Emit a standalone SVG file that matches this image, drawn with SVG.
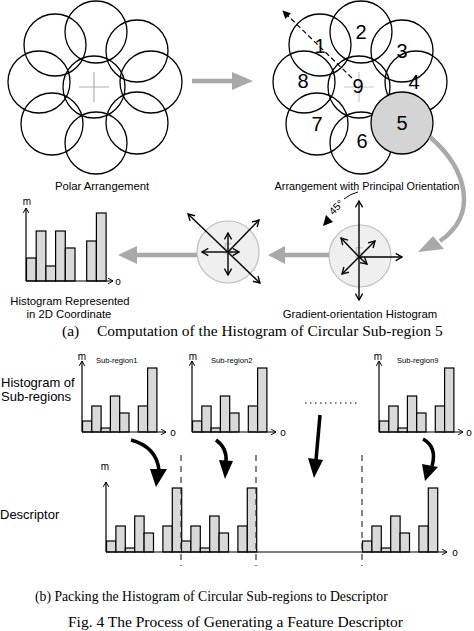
<svg xmlns="http://www.w3.org/2000/svg" width="474" height="631" viewBox="0 0 474 631">
<style>
.c{fill:none;stroke:#000;stroke-width:1.3}
.sans{font-family:"Liberation Sans",Arial,sans-serif;fill:#000}
.serif{font-family:"Liberation Serif","Times New Roman",serif;fill:#000}
.num{font-family:"Liberation Sans",Arial,sans-serif;font-size:20px;text-anchor:middle;fill:#000}
.bar{fill:#d9d9d9;stroke:#000;stroke-width:1.2}
.ax{fill:none;stroke:#000;stroke-width:1.2;marker-end:url(#chevS)}
.ga{fill:none;stroke:#000;stroke-width:1.4;marker-end:url(#chev)}
.gray{fill:none;stroke:#a9a9a9;stroke-width:4.5}
.dash{fill:none;stroke:#222;stroke-width:1.1;stroke-dasharray:6,5}
.blk{fill:none;stroke:#000;stroke-width:3.5}
</style>
<defs>
<marker id="chev" viewBox="0 0 10 10" refX="9" refY="5" markerWidth="9" markerHeight="9" markerUnits="userSpaceOnUse" orient="auto-start-reverse"><path d="M2,1 L9,5 L2,9" fill="none" stroke="#000" stroke-width="1.5"/></marker>
<marker id="chevS" viewBox="0 0 10 10" refX="9" refY="5" markerWidth="7" markerHeight="7" markerUnits="userSpaceOnUse" orient="auto"><path d="M2,1 L9,5 L2,9" fill="none" stroke="#000" stroke-width="1.4"/></marker>
<marker id="tri" viewBox="0 0 10 10" refX="9" refY="5" markerWidth="8" markerHeight="8" markerUnits="userSpaceOnUse" orient="auto"><path d="M0,0 L10,5 L0,10 z" fill="#000"/></marker>
</defs>

<!-- (a) Polar arrangement -->
<g id="polar-arrangement">
<g class="c">
<circle cx="96" cy="32" r="31"/>
<circle cx="137" cy="51" r="31"/>
<circle cx="151" cy="82" r="31"/>
<circle cx="137" cy="123" r="31"/>
<circle cx="96" cy="143" r="31"/>
<circle cx="52" cy="124" r="31"/>
<circle cx="39" cy="82" r="31"/>
<circle cx="55" cy="45" r="31"/>
<circle cx="94" cy="87" r="31"/>
</g>
<path d="M79,87 H109 M94,72 V102" stroke="#b0b0b0" stroke-width="1.2" fill="none"/>
<text class="sans" x="102" y="190" font-size="11.3" text-anchor="middle">Polar Arrangement</text>
</g>

<!-- Arrangement with principal orientation -->
<g id="principal-arrangement">
<g class="c">
<circle cx="361" cy="32" r="31"/>
<circle cx="402" cy="51" r="31"/>
<circle cx="416" cy="82" r="31"/>
<circle cx="361" cy="143" r="31"/>
<circle cx="317" cy="124" r="31"/>
<circle cx="304" cy="82" r="31"/>
<circle cx="320" cy="45" r="31"/>
<circle cx="359" cy="87" r="31"/>
<circle cx="402" cy="123" r="31" fill="#d4d4d4"/>
</g>
<path d="M344,87 H374 M359,72 V102" stroke="#c8c8c8" stroke-width="1.2" fill="none"/>
<text class="num" x="320" y="53">1</text>
<text class="num" x="361" y="39">2</text>
<text class="num" x="402" y="58">3</text>
<text class="num" x="414" y="89">4</text>
<text class="num" x="402" y="130">5</text>
<text class="num" x="362" y="148">6</text>
<text class="num" x="317" y="131">7</text>
<text class="num" x="303" y="88">8</text>
<text class="num" x="358" y="93">9</text>
<line x1="352" y1="78" x2="283" y2="11" stroke="#000" stroke-width="1.2" stroke-dasharray="5,3" marker-end="url(#tri)"/>
<text class="sans" x="367" y="190" font-size="10.8" text-anchor="middle">Arrangement with Principal Orientation</text>
</g>

<!-- Gradient-orientation histogram -->
<g id="gradient-histogram">
<circle cx="360" cy="256" r="31" fill="#efefef" stroke="#bdbdbd" stroke-width="1.2"/>
<text class="sans" x="359" y="259" font-size="16" text-anchor="middle" style="fill:#c4c4c4">5</text>
<line class="ga" x1="359" y1="257" x2="359" y2="201"/>
<line class="ga" x1="359" y1="257" x2="359" y2="300"/>
<line class="ga" x1="359" y1="257" x2="402" y2="257"/>
<line class="ga" x1="359" y1="257" x2="341" y2="238"/>
<line class="ga" x1="359" y1="257" x2="375" y2="241"/>
<line class="ga" x1="359" y1="257" x2="342" y2="274"/>
<line class="ga" x1="359" y1="257" x2="367" y2="264"/>
<path d="M358,192 Q350,194 344,199" fill="none" stroke="#000" stroke-width="1"/>
<polygon points="323,226 326,215 333,222" fill="#000"/>
<text class="sans" x="336" y="211" font-size="10.5" text-anchor="middle" transform="rotate(-45 336 207)">45°</text>
<text class="sans" x="360" y="318" font-size="11.3" text-anchor="middle">Gradient-orientation Histogram</text>
</g>

<!-- Rotated gradient circle -->
<g id="rotated-gradient">
<circle cx="228" cy="252" r="31" fill="#efefef" stroke="#bdbdbd" stroke-width="1.2"/>
<text class="sans" x="228" y="255" font-size="16" text-anchor="middle" style="fill:#c4c4c4">5</text>
<line class="ga" x1="188" y1="214" x2="260" y2="283" style="marker-start:url(#chev)"/>
<line class="ga" x1="228" y1="252" x2="259" y2="220"/>
<line class="ga" x1="228" y1="252" x2="228" y2="233"/>
<line class="ga" x1="228" y1="252" x2="228" y2="275"/>
<line class="ga" x1="228" y1="252" x2="202" y2="252"/>
<line class="ga" x1="228" y1="252" x2="239" y2="252"/>
</g>

<!-- 2D histogram -->
<g id="histogram-2d">
<rect class="bar" x="26.5" y="258" width="9.7" height="23"/>
<rect class="bar" x="36.2" y="231" width="9.7" height="50"/>
<rect class="bar" x="45.9" y="266" width="9.7" height="15"/>
<rect class="bar" x="55.6" y="231" width="9.7" height="50"/>
<rect class="bar" x="65.3" y="248" width="9.7" height="33"/>
<rect class="bar" x="86.7" y="241" width="9.7" height="40"/>
<rect class="bar" x="96.4" y="213" width="9.7" height="68"/>
<line class="ax" x1="26" y1="281" x2="26" y2="208"/>
<line class="ax" x1="26" y1="281" x2="113" y2="281"/>
<text class="sans" x="27" y="205" font-size="10" text-anchor="middle">m</text>
<text class="sans" x="118" y="284.5" font-size="10" text-anchor="middle">o</text>
<text class="sans" x="70" y="305" font-size="11.3" text-anchor="middle">Histogram Represented</text>
<text class="sans" x="69" y="318" font-size="11.3" text-anchor="middle">in 2D Coordinate</text>
</g>

<!-- Sub-region histograms -->
<g id="subregion1">
<rect class="bar" x="82.5" y="421" width="9.3" height="11"/>
<rect class="bar" x="91.8" y="406" width="9.3" height="26"/>
<rect class="bar" x="101.1" y="428" width="9.3" height="4"/>
<rect class="bar" x="110.4" y="396" width="9.3" height="36"/>
<rect class="bar" x="119.7" y="413" width="9.3" height="19"/>
<rect class="bar" x="138.3" y="406" width="9.3" height="26"/>
<rect class="bar" x="147.6" y="368" width="9.3" height="64"/>
<line class="ax" x1="82" y1="432" x2="82" y2="361"/>
<line class="ax" x1="82" y1="432" x2="166" y2="432"/>
<text class="sans" x="82" y="360" font-size="10" text-anchor="middle">m</text>
<text class="sans" x="96" y="363" font-size="7.6">Sub-region1</text>
<text class="sans" x="173" y="435.5" font-size="10" text-anchor="middle">o</text>
</g>
<g id="subregion2">
<rect class="bar" x="192.5" y="421" width="9.3" height="11"/>
<rect class="bar" x="201.8" y="406" width="9.3" height="26"/>
<rect class="bar" x="211.1" y="428" width="9.3" height="4"/>
<rect class="bar" x="220.4" y="396" width="9.3" height="36"/>
<rect class="bar" x="229.7" y="413" width="9.3" height="19"/>
<rect class="bar" x="248.3" y="406" width="9.3" height="26"/>
<rect class="bar" x="257.6" y="368" width="9.3" height="64"/>
<line class="ax" x1="192" y1="432" x2="192" y2="361"/>
<line class="ax" x1="192" y1="432" x2="276" y2="432"/>
<text class="sans" x="193" y="360" font-size="10" text-anchor="middle">m</text>
<text class="sans" x="211" y="363" font-size="7.6">Sub-region2</text>
<text class="sans" x="283" y="435.5" font-size="10" text-anchor="middle">o</text>
</g>
<g id="subregion9">
<rect class="bar" x="379.5" y="421" width="9.3" height="11"/>
<rect class="bar" x="388.8" y="406" width="9.3" height="26"/>
<rect class="bar" x="398.1" y="428" width="9.3" height="4"/>
<rect class="bar" x="407.4" y="396" width="9.3" height="36"/>
<rect class="bar" x="416.7" y="413" width="9.3" height="19"/>
<rect class="bar" x="435.3" y="406" width="9.3" height="26"/>
<rect class="bar" x="444.6" y="368" width="9.3" height="64"/>
<line class="ax" x1="379" y1="432" x2="379" y2="361"/>
<line class="ax" x1="379" y1="432" x2="463" y2="432"/>
<text class="sans" x="378" y="360" font-size="10" text-anchor="middle">m</text>
<text class="sans" x="397" y="363" font-size="7.6">Sub-region9</text>
<text class="sans" x="469" y="435.5" font-size="10" text-anchor="middle">o</text>
</g>
<g id="ellipsis">
<line x1="305" y1="403" x2="358" y2="403" stroke="#000" stroke-width="1.2" stroke-dasharray="1.5,3.5"/>
</g>

<!-- Descriptor -->
<g id="descriptor">
<rect class="bar" x="106.5" y="541" width="9.4" height="11"/>
<rect class="bar" x="115.9" y="526" width="9.4" height="26"/>
<rect class="bar" x="125.3" y="548" width="9.4" height="4"/>
<rect class="bar" x="134.7" y="516" width="9.4" height="36"/>
<rect class="bar" x="144.1" y="533" width="9.4" height="19"/>
<rect class="bar" x="162.9" y="526" width="9.4" height="26"/>
<rect class="bar" x="172.3" y="488" width="9.4" height="64"/>
<rect class="bar" x="181.5" y="541" width="9.4" height="11"/>
<rect class="bar" x="190.9" y="526" width="9.4" height="26"/>
<rect class="bar" x="200.3" y="548" width="9.4" height="4"/>
<rect class="bar" x="209.7" y="516" width="9.4" height="36"/>
<rect class="bar" x="219.1" y="533" width="9.4" height="19"/>
<rect class="bar" x="237.9" y="526" width="9.4" height="26"/>
<rect class="bar" x="247.3" y="488" width="9.4" height="64"/>
<rect class="bar" x="362.5" y="541" width="9.4" height="11"/>
<rect class="bar" x="371.9" y="526" width="9.4" height="26"/>
<rect class="bar" x="381.3" y="548" width="9.4" height="4"/>
<rect class="bar" x="390.7" y="516" width="9.4" height="36"/>
<rect class="bar" x="400.1" y="533" width="9.4" height="19"/>
<rect class="bar" x="418.9" y="526" width="9.4" height="26"/>
<rect class="bar" x="428.3" y="488" width="9.4" height="64"/>
<line class="ax" x1="106" y1="552" x2="106" y2="482"/>
<line class="ax" x1="106" y1="552" x2="447" y2="552"/>
<text class="sans" x="105" y="470" font-size="10" text-anchor="middle">m</text>
<text class="sans" x="455" y="555.5" font-size="10" text-anchor="middle">o</text>
<line class="dash" x1="181" y1="455" x2="181" y2="566"/>
<line class="dash" x1="256" y1="455" x2="256" y2="566"/>
<line class="dash" x1="362" y1="455" x2="362" y2="566"/>
</g>

<!-- Row labels -->
<g id="labels">
<text class="sans" x="1" y="387" font-size="13">Histogram of</text>
<text class="sans" x="1" y="401" font-size="13">Sub-regions</text>
<text class="sans" x="0" y="519" font-size="13">Descriptor</text>
</g>

<!-- Connectors -->
<g id="connectors">
<line class="gray" x1="192" y1="81" x2="234" y2="81"/>
<polygon points="253,81 232,72 232,90" fill="#a9a9a9"/>
<path class="gray" d="M430,137 C468,170 478,215 440,241"/>
<polygon points="418,252 433,236 444,249" fill="#a9a9a9"/>
<line class="gray" x1="329" y1="255" x2="284" y2="255"/>
<polygon points="268,255 285,246 285,264" fill="#a9a9a9"/>
<line class="gray" x1="197" y1="255" x2="135" y2="255"/>
<polygon points="118,255 137,246 137,264" fill="#a9a9a9"/>

<path class="blk" d="M131,440 C146,444 157,453 159,470"/>
<polygon points="150,469 167,469 156,487" fill="#000"/>
<path class="blk" d="M216,440 C223,445 227,452 226,462"/>
<polygon points="219,460 233,461 225,479" fill="#000"/>
<line class="blk" x1="320" y1="415" x2="316" y2="460"/>
<polygon points="308,458 323,460 314,478" fill="#000"/>
<path class="blk" d="M423,439 C432,444 436,452 432,466"/>
<polygon points="422,464 438,467 425,481" fill="#000"/>
</g>

<!-- Captions -->
<g id="captions">
<text class="serif" x="62" y="335.5" font-size="15.5">(a)</text>
<text class="serif" x="97" y="335.5" font-size="15.5">Computation of the Histogram of Circular Sub-region 5</text>
<text class="serif" x="35" y="601" font-size="13.7">(b) Packing the Histogram of Circular Sub-regions to Descriptor</text>
<text class="serif" x="68" y="626.5" font-size="15.5">Fig. 4 The Process of Generating a Feature Descriptor</text>
</g>
</svg>
